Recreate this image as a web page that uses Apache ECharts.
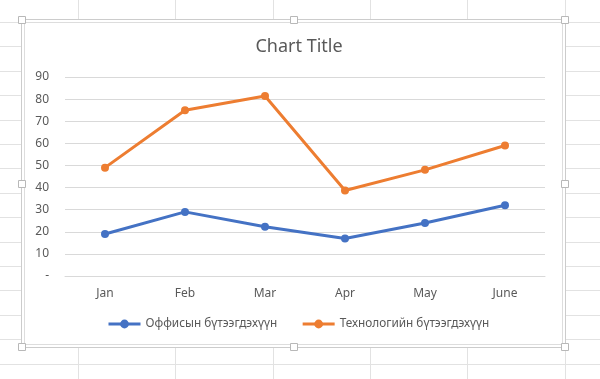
<!DOCTYPE html>
<html>
<head>
<meta charset="utf-8">
<script src="https://cdn.jsdelivr.net/npm/echarts@6/dist/echarts.min.js"></script>
<style>html,body{margin:0;padding:0;background:#fff}#c{width:600px;height:379px}</style>
</head>
<body>
<div id="c"></div>
<script>
const categories = ['Jan', 'Feb', 'Mar', 'Apr', 'May', 'June'];
const officeValues = [19, 29, 22.3, 17, 24, 32];
const techValues = [49, 75, 81.4, 38.7, 48, 59];
const seriesNames = ['Оффисын бүтээгдэхүүн', 'Технологийн бүтээгдэхүүн'];
const titleText = 'Chart Title';

const FONT = '"Noto Sans", sans-serif';
const TXT = '#595959';

// spreadsheet background decoration
const sheet = [];
const colXs = [78, 175, 273, 370, 467, 565];
const rowYs = [];
for (let y = 22; y < 379; y += 24.4) rowYs.push(Math.round(y));
colXs.forEach(x => sheet.push({type:'line', z:-20, silent:true, shape:{x1:x+0.5,y1:0,x2:x+0.5,y2:379}, style:{stroke:'#e2e2e2', lineWidth:1}}));
rowYs.forEach(y => sheet.push({type:'line', z:-20, silent:true, shape:{x1:0,y1:y+0.5,x2:600,y2:y+0.5}, style:{stroke:'#e2e2e2', lineWidth:1}}));
// chart frame
sheet.push({type:'rect', z:-10, silent:true, shape:{x:21.5,y:19.5,width:544,height:328}, style:{fill:'#ffffff', stroke:'#cccccc', lineWidth:1}});
sheet.push({type:'rect', z:-9, silent:true, shape:{x:24.5,y:22.5,width:538,height:322}, style:{fill:'#ffffff', stroke:'#dddddd', lineWidth:1}});
const handles = [[22,20],[294,20],[565,20],[22,184],[565,184],[22,347],[294,347],[565,347]];
handles.forEach(([x,y]) => sheet.push({type:'rect', z:50, silent:true, shape:{x:x-3.5,y:y-3.5,width:7,height:7}, style:{fill:'#ffffff', stroke:'#b8b8b8', lineWidth:1}}));

const chart = echarts.init(document.getElementById('c'));
chart.setOption({
  animation: false,
  backgroundColor: '#ffffff',
  graphic: sheet,
  title: {
    text: titleText,
    left: 294,
    top: 33,
    textAlign: 'center',
    textStyle: {fontFamily: FONT, fontSize: 18, fontWeight: 'normal', color: TXT}
  },
  legend: {
    left: 102,
    top: 313,
    itemWidth: 32,
    itemHeight: 11,
    itemGap: 24,
    lineStyle: {width: 3},
    textStyle: {fontFamily: FONT, fontSize: 11.8, color: TXT},
    data: seriesNames
  },
  grid: {left: 65, right: 55, top: 77, bottom: 103, containLabel: false},
  xAxis: {
    type: 'category',
    data: categories,
    boundaryGap: true,
    axisLine: {show: true, lineStyle: {color: '#d9d9d9', width: 1}},
    axisTick: {show: false},
    axisLabel: {fontFamily: FONT, fontSize: 12, color: TXT, margin: 12}
  },
  yAxis: {
    type: 'value',
    min: 0,
    max: 90,
    interval: 10,
    axisLine: {show: false},
    axisTick: {show: false},
    splitLine: {lineStyle: {color: '#d9d9d9', width: 1}},
    axisLabel: {fontFamily: FONT, fontSize: 12, color: TXT, margin: 16,
      formatter: v => v === 0 ? '-' : String(v)}
  },
  series: [
    {name: seriesNames[0], type: 'line', data: officeValues, symbol: 'circle', symbolSize: 8,
     color: '#4472C4', lineStyle: {width: 3, color: '#4472C4'}, itemStyle: {color: '#4472C4'}},
    {name: seriesNames[1], type: 'line', data: techValues, symbol: 'circle', symbolSize: 8,
     color: '#ED7D31', lineStyle: {width: 3, color: '#ED7D31'}, itemStyle: {color: '#ED7D31'}}
  ]
});
</script>
</body>
</html>
